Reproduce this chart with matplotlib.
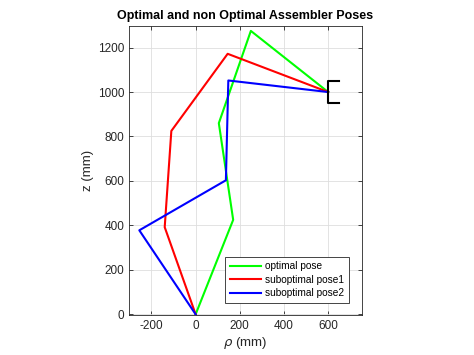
import numpy as np
import matplotlib
matplotlib.use("Agg")
import matplotlib.pyplot as plt

plt.rcParams['font.family'] = ['Liberation Sans', 'DejaVu Sans']
plt.rcParams['axes.unicode_minus'] = False

# joint positions of each pose (rho, z) in mm
opt_rho = [0, 170, 105, 250, 600]
opt_z = [0, 425, 860, 1275, 1000]
sub1_rho = [0, -140, -110, 145, 600]
sub1_z = [0, 392, 825, 1172, 1000]
sub2_rho = [0, -255, 137, 148, 600]
sub2_z = [0, 378, 603, 1052, 1000]
# gripper bracket
grip_rho = [650, 600, 600, 650]
grip_z = [1050, 1050, 950, 950]

labels = ["optimal pose", "suboptimal pose1", "suboptimal pose2"]

fig = plt.figure(figsize=(4.74, 3.55), dpi=100)
ax = fig.add_axes([0.272, 0.1127, 0.4916, 0.814])

ax.plot(opt_rho, opt_z, color="#00ff00", lw=1.5, label=labels[0])
ax.plot(sub1_rho, sub1_z, color="#ff0000", lw=1.5, label=labels[1])
ax.plot(sub2_rho, sub2_z, color="#0000ff", lw=1.5, label=labels[2])
ax.plot(grip_rho, grip_z, color="black", lw=1.5)

ax.set_xlim(-302, 753)
ax.set_ylim(-3, 1297)
ax.set_xticks([-200, 0, 200, 400, 600])
ax.set_yticks([0, 200, 400, 600, 800, 1000, 1200])
ax.grid(True, color="#dedede", lw=0.6)
ax.set_axisbelow(True)
ax.tick_params(direction="in", length=3, labelsize=8.5, colors="#262626", width=0.6,
               top=True, right=True)
for s in ax.spines.values():
    s.set_color("#262626")
    s.set_linewidth(0.6)

ax.set_xlabel(r"$\rho$ (mm)", fontsize=9.5, color="#262626", labelpad=2)
ax.set_ylabel("z (mm)", fontsize=9.5, color="#262626", labelpad=2.5)
ax.set_title("Optimal and non Optimal Assembler Poses", fontsize=9, fontweight="bold", pad=5)

leg = ax.legend(loc="lower right", fontsize=7.3, fancybox=False, framealpha=1,
                edgecolor="#262626", handlelength=3.1, handletextpad=0.4,
                borderpad=0.45, labelspacing=0.35, borderaxespad=0,
                bbox_to_anchor=(0.944, 0.042))
leg.get_frame().set_linewidth(0.6)

fig.savefig("out.png", dpi=100)
